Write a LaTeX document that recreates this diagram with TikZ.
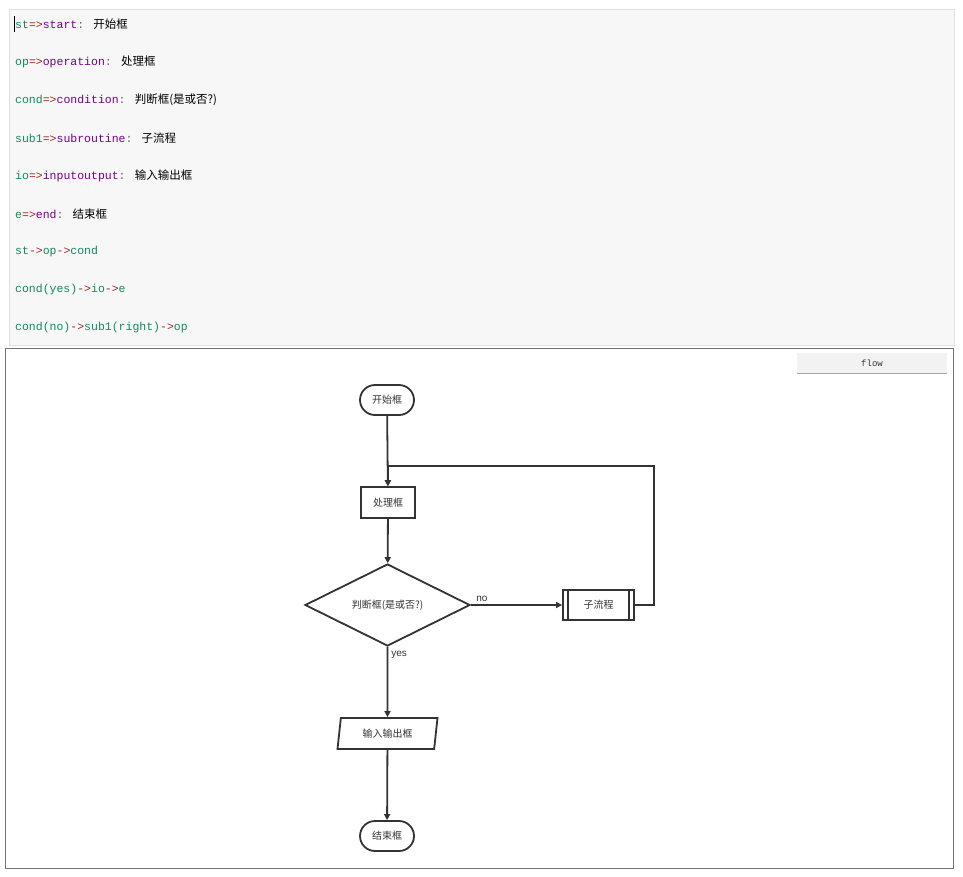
\documentclass[tikz,border=0pt]{standalone}
\usepackage{fontspec}
\setmainfont{Liberation Sans}
\newfontfamily\cjk{Noto Sans CJK SC}
\newfontfamily\mono{Liberation Mono}
\usetikzlibrary{shapes.geometric,arrows.meta}
\definecolor{cg}{HTML}{118A5E}
\definecolor{cr}{HTML}{AA2222}
\definecolor{cp}{HTML}{770088}
\definecolor{cc}{HTML}{666666}
\definecolor{ln}{HTML}{333333}
\newcommand{\G}[1]{\textcolor{cg}{#1}}
\newcommand{\R}[1]{\textcolor{cr}{#1}}
\newcommand{\Pp}[1]{\textcolor{cp}{#1}}
\newcommand{\Cz}[1]{{\cjk #1}}
\begin{document}
\begin{tikzpicture}[x=1pt,y=-1pt,
  code/.style={anchor=west,inner sep=0,font=\mono\fontsize{11.5}{12}\selectfont},
  box/.style={draw=ln,line width=1.8pt,font=\cjk\fontsize{10}{12}\selectfont,text=ln,inner sep=0},
  arr/.style={draw=ln,line width=1.8pt,-{Triangle[length=6pt,width=6pt]}},
  lbl/.style={font=\fontsize{10}{12}\selectfont,text=ln,inner sep=0}]
\useasboundingbox (0,0) rectangle (963,876);
\filldraw[fill=black!3,draw=black!12] (9,9) rectangle (954,345);
\draw[black,line width=0.8pt] (14.5,16) -- (14.5,32);
\node[code] (c1) at (15,24) {\G{st}\R{=>}\Pp{start}\textcolor{cc}{:} \Cz{开始框}};
\node[code] (c2) at (15,62) {\G{op}\R{=>}\Pp{operation}\textcolor{cc}{:} \Cz{处理框}};
\node[code] (c3) at (15,100) {\G{cond}\R{=>}\Pp{condition}\textcolor{cc}{:} \Cz{判断框(是或否?)}};
\node[code] (c4) at (15,138) {\G{sub1}\R{=>}\Pp{subroutine}\textcolor{cc}{:} \Cz{子流程}};
\node[code] (c5) at (15,176) {\G{io}\R{=>}\Pp{inputoutput}\textcolor{cc}{:} \Cz{输入输出框}};
\node[code] (c6) at (15,214) {\G{e}\R{=>}\Pp{end}\textcolor{cc}{:} \Cz{结束框}};
\node[code] (c7) at (15,252) {\G{st}\R{->}\G{op}\R{->}\G{cond}};
\node[code] (c8) at (15,290) {\G{cond(yes)}\R{->}\G{io}\R{->}\G{e}};
\node[code] (c9) at (15,328) {\G{cond(no)}\R{->}\G{sub1(right)}\R{->}\G{op}};
\draw[black!55] (5,348) rectangle (953,868);
\fill[black!5] (797,353) rectangle (947,373);
\draw[black!35] (797,373) -- (947,373);
\node[font=\mono\fontsize{9}{10}\selectfont,text=ln] (fl) at (872,363) {flow};
\node[box,rounded corners=15pt,minimum width=54pt,minimum height=30pt] (st) at (387,400) {开始框};
\node[box,minimum width=54pt,minimum height=31pt] (op) at (388,502.5) {处理框};
\node[box,diamond,aspect=2,minimum width=165pt,minimum height=82pt] (cond) at (387.5,605) {判断框(是或否?)};
\node[box,minimum width=71pt,minimum height=30pt] (sub) at (598.5,605) {子流程};
\draw[ln,line width=1.8pt] ([xshift=6pt]sub.north west) -- ([xshift=6pt]sub.south west)
  ([xshift=-6pt]sub.north east) -- ([xshift=-6pt]sub.south east);
\node[box,trapezium,trapezium left angle=70,trapezium right angle=110,minimum width=100pt,minimum height=31pt,trapezium stretches body] (io) at (387.5,733.5) {输入输出框};
\node[box,rounded corners=15pt,minimum width=54pt,minimum height=30pt] (e) at (387,836) {结束框};
\coordinate (j) at (388,466);
\draw[arr] (st) -- (op);
\draw[arr] (op) -- (cond);
\draw[arr] (cond) -- node[lbl,pos=0.12,above=3pt] {no} (sub);
\draw[arr] (cond) -- node[lbl,pos=0.12,right=3pt] {yes} (io);
\draw[arr] (io) -- (e);
\draw[arr] (sub.east) -- (654,605) |- (j) -- (op.north);
\end{tikzpicture}
\end{document}
